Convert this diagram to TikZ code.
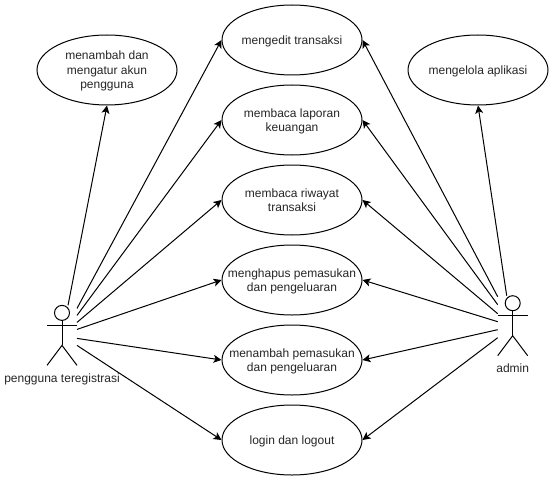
\documentclass[tikz,border=0pt]{standalone}
\usepackage{fontspec}
\setmainfont{Liberation Sans}
\usetikzlibrary{arrows.meta,shapes.geometric}
\newcommand{\uclines}[1]{\makebox[0pt][c]{\raisebox{-4.5pt}[0pt][0pt]{\begin{tabular}{@{}c@{}}#1\end{tabular}}}}
\tikzset{
  x=1pt,y=-1pt,
  usecase/.style={ellipse,draw=black,line width=1pt,fill=white,minimum width=140pt,minimum height=70pt,inner sep=0pt,font=\fontsize{12}{14.5}\selectfont,text=black!85},
  actorbox/.style={rectangle,draw=none,minimum width=30pt,minimum height=60pt,inner sep=0pt,outer sep=0pt},
  actorline/.style={draw=black,line width=1pt},
  actorlabel/.style={font=\fontsize{12}{14.5}\selectfont,text=black!85,inner sep=0pt},
  conn/.style={draw=black,line width=1pt,-{Stealth[length=8pt,width=8pt,inset=2pt]}}
}
\newcommand{\stickman}[1]{%
  \draw[actorline] ([yshift=-7.5pt]#1.north) circle[radius=7.5pt];
  \draw[actorline] ([yshift=-15pt]#1.north) -- ([yshift=20pt]#1.south);
  \draw[actorline] ([yshift=-20pt]#1.north west) -- ([yshift=-20pt]#1.north east);
  \draw[actorline] (#1.south west) -- ([yshift=20pt]#1.south) -- (#1.south east);
}
\begin{document}
\begin{tikzpicture}
\useasboundingbox[fill=white] (0,0) rectangle (553,481);
\node[usecase] (edit) at (292,40) {\uclines{mengedit transaksi}};
\node[usecase] (lapor) at (292,120) {\uclines{membaca laporan\\keuangan}};
\node[usecase] (riwayat) at (292,200) {\uclines{membaca riwayat\\transaksi}};
\node[usecase] (hapus) at (292,280) {\uclines{menghapus pemasukan\\dan pengeluaran}};
\node[usecase] (tambah) at (292,360) {\uclines{menambah pemasukan\\dan pengeluaran}};
\node[usecase] (login) at (292,440) {\uclines{login dan logout}};
\node[usecase] (akun) at (107,70) {\uclines{menambah dan\\mengatur akun\\pengguna}};
\node[usecase] (aplikasi) at (478,70) {\uclines{mengelola aplikasi}};
\node[actorbox] (pengguna) at (62,335.4) {};
\node[actorbox] (admin) at (512.7,325.7) {};
\stickman{pengguna}
\stickman{admin}
\node[actorlabel,anchor=north] (lp) at ([yshift=-8pt]pengguna.south) {pengguna teregistrasi};
\node[actorlabel,anchor=north] (la) at ([yshift=-8pt]admin.south) {admin};
% left actor
\draw[conn] ([xshift=6pt]pengguna.north) -- (akun.south);
\draw[conn] ([yshift=-3pt]pengguna.north east) -- (edit.west);
\draw[conn] ([yshift=-10pt]pengguna.north east) -- (lapor.west);
\draw[conn] ([yshift=-17pt]pengguna.north east) -- (riwayat.west);
\draw[conn] ([yshift=-24pt]pengguna.north east) -- (hapus.west);
\draw[conn] ([yshift=-33pt]pengguna.north east) -- (tambah.west);
\draw[conn] ([yshift=-40pt]pengguna.north east) -- (login.west);
% right actor
\draw[conn] ([xshift=-6pt]admin.north) -- (aplikasi.south);
\draw[conn] ([yshift=-1pt]admin.north west) -- (edit.east);
\draw[conn] ([yshift=-9pt]admin.north west) -- (lapor.east);
\draw[conn] ([yshift=-18pt]admin.north west) -- (riwayat.east);
\draw[conn] ([yshift=-26pt]admin.north west) -- (hapus.east);
\draw[conn] ([yshift=-34pt]admin.north west) -- (tambah.east);
\draw[conn] ([yshift=-42pt]admin.north west) -- (login.east);
\end{tikzpicture}
\end{document}
